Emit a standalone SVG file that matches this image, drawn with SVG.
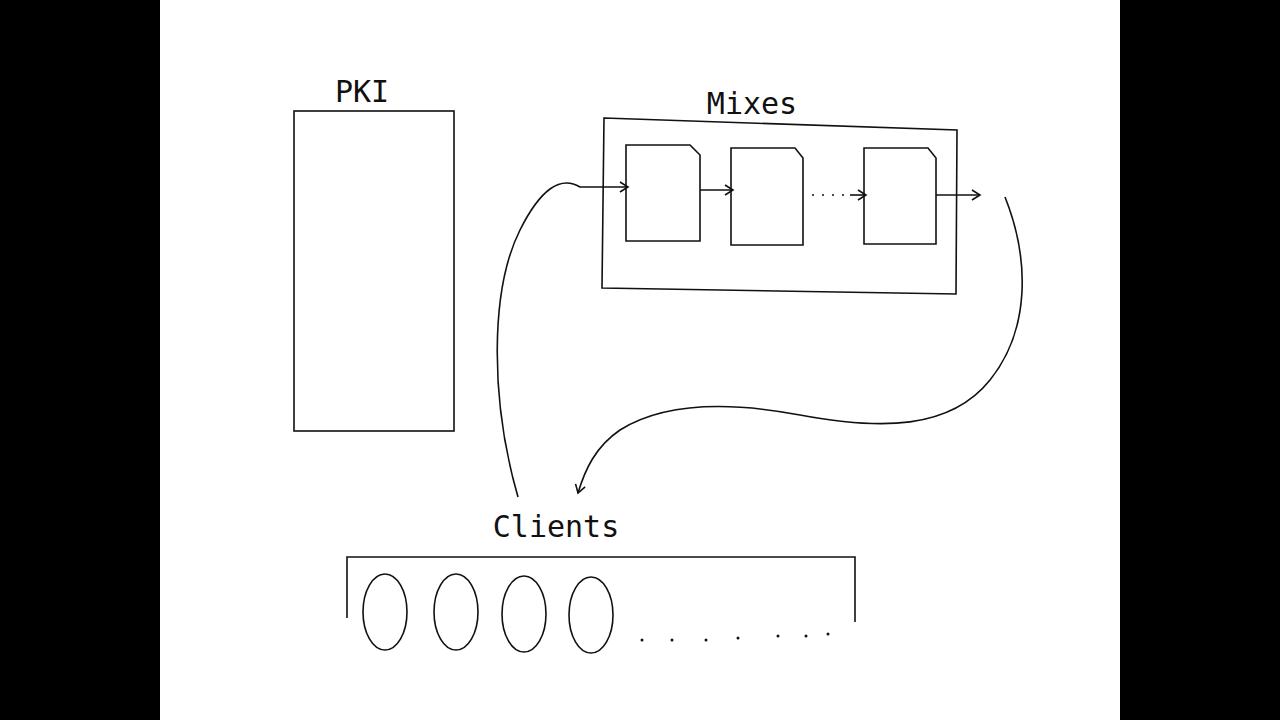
<svg xmlns="http://www.w3.org/2000/svg" width="1280" height="720" viewBox="0 0 1280 720">
<style>
.s{fill:none;stroke:#111;stroke-width:1.6}
.t{font-family:"DejaVu Sans Mono",monospace;font-size:30px;fill:#111;text-anchor:middle}
.d{fill:#111}
</style>
<defs><marker id="a" markerWidth="12" markerHeight="12" refX="10" refY="6" orient="auto" markerUnits="userSpaceOnUse"><path d="M2,1 L10,6 L2,11" class="s"/></marker></defs>
<rect width="1280" height="720" fill="#000"/>
<rect x="160" y="0" width="960" height="720" fill="#fff"/>
<g id="pki"><rect class="s" x="294" y="111" width="160" height="320"/><text class="t" x="362" y="102">PKI</text></g>
<g id="mixes"><path class="s" d="M604,118 L957,130 L956,294 L602,288 Z"/><text class="t" x="752" y="114">Mixes</text>
<g id="mix1"><path class="s" d="M626,145 H690 L700,155 V241 H626 Z"/></g>
<g id="mix2"><path class="s" d="M731,148 H795 L803,158 V245 H731 Z"/></g>
<g id="mix3"><path class="s" d="M864,148 H928 L936,158 V244 H864 Z"/></g>
</g>
<g id="clients"><text class="t" x="556" y="537">Clients</text>
<path class="s" d="M347,618 V557 H855 V622"/>
<ellipse class="s" cx="385" cy="612" rx="22" ry="38"/>
<ellipse class="s" cx="456" cy="612" rx="22" ry="38"/>
<ellipse class="s" cx="524" cy="614" rx="22" ry="38"/>
<ellipse class="s" cx="591" cy="615" rx="22" ry="38"/>
<circle class="d" cx="642" cy="640" r="1.5"/><circle class="d" cx="672" cy="640" r="1.5"/><circle class="d" cx="706" cy="640" r="1.5"/><circle class="d" cx="738" cy="638" r="1.5"/><circle class="d" cx="778" cy="636" r="1.5"/><circle class="d" cx="806" cy="636" r="1.5"/><circle class="d" cx="828" cy="634" r="1.5"/>
</g>
<g id="connectors">
<path class="s" d="M518,497 C490,400 490,290 520,230 C540,190 560,175 580,187 L628,187" marker-end="url(#a)"/>
<path class="s" d="M700,190 L733,190" marker-end="url(#a)"/>
<path class="s" d="M812,195 h2 M822,195 h2 M832,195 h2 M842,195 h2"/>
<path class="s" d="M850,195 L866,195" marker-end="url(#a)"/>
<path class="s" d="M936,195 L980,195" marker-end="url(#a)"/>
<path class="s" d="M1005,197 C1030,260 1030,330 990,380 C950,430 880,430 800,415 C720,400 660,405 620,430 C595,447 585,470 578,493" marker-end="url(#a)"/>
</g>
</svg>
